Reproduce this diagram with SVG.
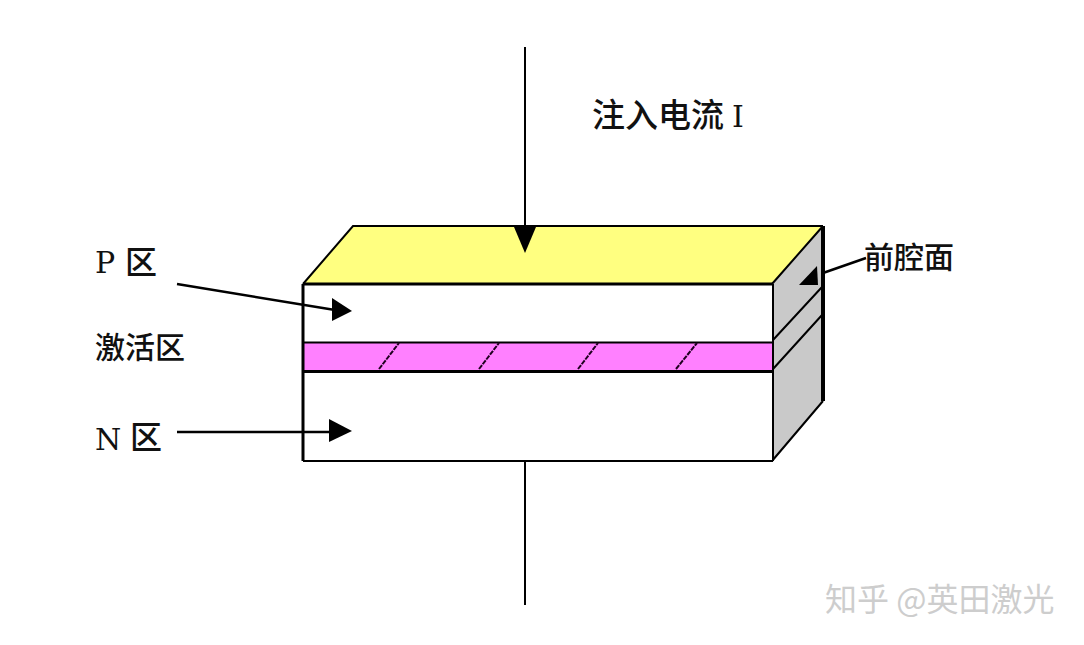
<svg xmlns="http://www.w3.org/2000/svg" width="1084" height="645" viewBox="0 0 1084 645">
<style>
.t{font-family:"Noto Sans CJK SC","Liberation Serif",serif;fill:#111;font-size:32px;font-weight:500}
.l{font-family:"DejaVu Serif","Liberation Serif",serif;fill:#111;font-size:30px}
.e{fill:none;stroke:#000;stroke-width:2}
.h{fill:none;stroke:#200020;stroke-width:2;stroke-dasharray:5 1}
.c{fill:none;stroke:#000}
.w{font-family:"Noto Sans CJK SC",sans-serif;fill:#cdcdcd;font-size:32px}
</style>
<rect width="1084" height="645" fill="#fff"/>
<g id="top-face"><polygon points="303,284 353,226 823,226 772,284" fill="#ffff80"/><path class="e" d="M303,284L353,226H823"/></g>
<g id="side-face"><polygon points="772,284 823,226 823,401 772,461" fill="#c9c9c9"/>
<path class="e" d="M772,284L823,226M772,461L823,401"/><path d="M823,226V401" class="c" stroke-width="4"/>
<path class="e" d="M773,340L822,287M773,369L822,315"/></g>
<g id="front-face"><rect x="303" y="284" width="470" height="177" fill="#fff"/>
<rect id="active-layer" x="303" y="342" width="470" height="29" fill="#ff80ff"/>
<path class="c" stroke-width="3" d="M303,284H773M303,284V461M303,371.500H773"/><path class="e" d="M303,342.500H773M303,461H773M773,284V461"/>
<path class="h" d="M379,369L399,343M479,369L499,343M578,369L598,343M676,369L697,343"/></g>
<g id="connectors">
<path class="c" stroke-width="2" d="M525,47V228M525,461V605"/><polygon points="514,227 536,227 525,253"/>
<path class="c" stroke-width="2.500" d="M177,284L335,310M177,432H332"/><polygon points="332,298 352,311 332,321"/><polygon points="329,419 352,431 329,442"/>
<path class="c" stroke-width="2.500" d="M866,258L823,273"/><polygon points="799,285 817,266 818,285"/>
</g>
<g id="label-current"><text class="t" x="592" y="127" style="font-size:33px">注入电流</text><text class="l" x="732" y="127">I</text></g>
<g id="label-p"><text class="l" x="95" y="273">P</text><text class="t" x="125" y="274">区</text></g>
<g id="label-active"><text class="t" x="95" y="358" style="font-size:30px">激活区</text></g>
<g id="label-n"><text class="l" x="95" y="450">N</text><text class="t" x="130" y="449">区</text></g>
<g id="label-facet"><text class="t" x="864" y="268" style="font-size:30px">前腔面</text></g>
<g id="watermark"><text class="w" x="825" y="611">知乎 @英田激光</text></g>
</svg>
